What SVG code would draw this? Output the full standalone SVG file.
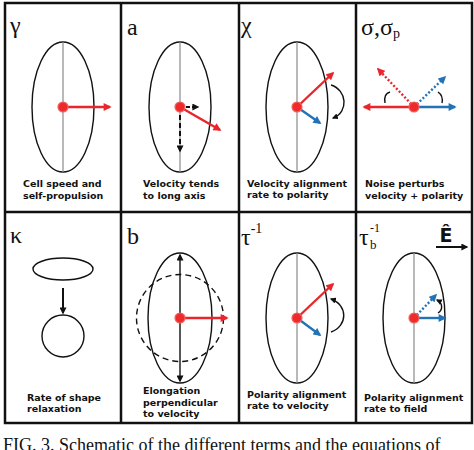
<svg xmlns="http://www.w3.org/2000/svg" width="474" height="450" viewBox="0 0 474 450">
<style>
.cap{font-family:"DejaVu Sans",Verdana,sans-serif;font-weight:bold;font-size:9.5px;fill:#111}
.sym{font-family:"Liberation Serif","Times New Roman",serif;font-size:24px;fill:#111}
.sm{font-size:14px}
.cell{fill:none;stroke:#111;stroke-width:1.4}
.axis{stroke:#8a8a8a;stroke-width:1.2}
.red{stroke:#e8262b;stroke-width:2.4;fill:none}
.blue{stroke:#2272b5;stroke-width:2.4;fill:none}
.blk{stroke:#111;stroke-width:2;fill:none}
.thin{stroke:#111;stroke-width:1.4;fill:none}
.dot{fill:#ee2a2a;stroke:#f06060;stroke-width:1.2}
.grid{stroke:#111;stroke-width:2.5;fill:none}
</style>
<defs>
<marker id="ar" viewBox="0 0 10 10" refX="8" refY="5" markerWidth="9" markerHeight="8" markerUnits="userSpaceOnUse" orient="auto"><path d="M0,0 L10,5 L0,10 z" fill="#e8262b"/></marker>
<marker id="ab" viewBox="0 0 10 10" refX="8" refY="5" markerWidth="9" markerHeight="8" markerUnits="userSpaceOnUse" orient="auto"><path d="M0,0 L10,5 L0,10 z" fill="#2272b5"/></marker>
<marker id="ak" viewBox="0 0 10 10" refX="8" refY="5" markerWidth="8" markerHeight="7" markerUnits="userSpaceOnUse" orient="auto"><path d="M0,0 L10,5 L0,10 z" fill="#111"/></marker>
<marker id="aks" viewBox="0 0 10 10" refX="8" refY="5" markerWidth="6" markerHeight="6" markerUnits="userSpaceOnUse" orient="auto"><path d="M0,0 L10,5 L0,10 z" fill="#111"/></marker>
</defs>
<rect x="0" y="0" width="474" height="450" fill="#fff"/>
<g id="grid">
<rect class="grid" x="5" y="3" width="467" height="420"/>
<line class="grid" x1="121" y1="3" x2="121" y2="423"/>
<line class="grid" x1="239" y1="3" x2="239" y2="423"/>
<line class="grid" x1="356" y1="3" x2="356" y2="423"/>
<line class="grid" x1="5" y1="212" x2="472" y2="212"/>
</g>
<g id="panel-gamma">
<text class="sym" x="10" y="33">γ</text>
<ellipse class="cell" cx="63" cy="107" rx="31" ry="65"/>
<line class="axis" x1="63" y1="42" x2="63" y2="172"/>
<line class="red" x1="63" y1="107" x2="110" y2="107" marker-end="url(#ar)"/>
<circle class="dot" cx="63" cy="107" r="5"/>
<text class="cap" x="23" y="187">Cell speed and</text>
<text class="cap" x="23" y="199">self-propulsion</text>
</g>
<g id="panel-a">
<text class="sym" x="127" y="35">a</text>
<ellipse class="cell" cx="180" cy="107" rx="31" ry="65"/>
<line class="axis" x1="180" y1="42" x2="180" y2="172"/>
<line class="blk" x1="180" y1="107" x2="198" y2="107" stroke-dasharray="4,2" marker-end="url(#ak)"/>
<line class="blk" x1="180" y1="107" x2="180" y2="151" stroke-dasharray="5,3" marker-end="url(#ak)"/>
<line class="red" x1="180" y1="107" x2="220" y2="130" marker-end="url(#ar)"/>
<circle class="dot" cx="180" cy="107" r="5"/>
<text class="cap" x="143" y="187">Velocity tends</text>
<text class="cap" x="143" y="199">to long axis</text>
</g>
<g id="panel-chi">
<text class="sym" x="241" y="33">χ</text>
<ellipse class="cell" cx="297" cy="107" rx="31" ry="65"/>
<line class="axis" x1="297" y1="42" x2="297" y2="172"/>
<line class="red" x1="297" y1="107" x2="333" y2="73" marker-end="url(#ar)"/>
<line class="blue" x1="297" y1="107" x2="320" y2="123" marker-end="url(#ab)"/>
<path class="thin" d="M331,85 C347,90 349,112 333,118" marker-end="url(#aks)"/>
<circle class="dot" cx="297" cy="107" r="5"/>
<text class="cap" x="247" y="187">Velocity alignment</text>
<text class="cap" x="247" y="198">rate to polarity</text>
</g>
<g id="panel-sigma">
<text class="sym" x="361" y="35">σ,σ<tspan class="sm" dy="3">p</tspan></text>
<line class="red" x1="414" y1="107" x2="364" y2="107" marker-end="url(#ar)"/>
<line class="blue" x1="414" y1="107" x2="455" y2="107" marker-end="url(#ab)"/>
<line class="red" x1="414" y1="107" x2="378" y2="69" stroke-dasharray="2,2" marker-end="url(#ar)"/>
<line class="blue" x1="414" y1="107" x2="445" y2="77" stroke-dasharray="2,2" marker-end="url(#ab)"/>
<path class="thin" d="M385,103 C384,97 386,93 390,92"/>
<path class="thin" d="M438,92 C441,94 443,98 442,103"/>
<circle class="dot" cx="414" cy="107" r="5"/>
<text class="cap" x="365" y="187">Noise perturbs</text>
<text class="cap" x="365" y="199">velocity + polarity</text>
</g>
<g id="panel-kappa">
<text class="sym" x="10" y="243">κ</text>
<ellipse class="cell" cx="63" cy="269" rx="30" ry="11"/>
<line class="blk" x1="63" y1="288" x2="63" y2="313" marker-end="url(#ak)"/>
<circle class="cell" cx="63" cy="336" r="21"/>
<text class="cap" x="27" y="401">Rate of shape</text>
<text class="cap" x="27" y="412">relaxation</text>
</g>
<g id="panel-b">
<text class="sym" x="127" y="244">b</text>
<ellipse class="cell" cx="180" cy="318" rx="32" ry="65"/>
<circle class="cell" cx="180" cy="318" r="43.5" stroke-dasharray="6,4"/>
<line class="thin" x1="180" y1="318" x2="180" y2="255" marker-end="url(#ak)"/>
<line class="thin" x1="180" y1="318" x2="180" y2="381" marker-end="url(#ak)"/>
<line class="red" x1="180" y1="318" x2="227" y2="318" marker-end="url(#ar)"/>
<circle class="dot" cx="180" cy="318" r="5"/>
<text class="cap" x="143" y="394">Elongation</text>
<text class="cap" x="143" y="406">perpendicular</text>
<text class="cap" x="143" y="417">to velocity</text>
</g>
<g id="panel-tau">
<text class="sym" x="241" y="245">τ<tspan class="sm" dy="-12">-1</tspan></text>
<ellipse class="cell" cx="297" cy="318" rx="31" ry="65"/>
<line class="axis" x1="297" y1="253" x2="297" y2="383"/>
<line class="red" x1="297" y1="318" x2="333" y2="284" marker-end="url(#ar)"/>
<line class="blue" x1="297" y1="318" x2="320" y2="335" marker-end="url(#ab)"/>
<path class="thin" d="M331,332 C348,326 348,305 331,299" marker-end="url(#aks)"/>
<circle class="dot" cx="297" cy="318" r="5"/>
<text class="cap" x="247" y="398">Polarity alignment</text>
<text class="cap" x="247" y="409">rate to velocity</text>
</g>
<g id="panel-taub">
<text class="sym" x="359" y="245">τ</text>
<text class="sym" x="370" y="232" style="font-size:12px">-1</text>
<text class="sym" x="370" y="249" style="font-size:13px">b</text>
<text x="446" y="242" text-anchor="middle" style="font-family:'DejaVu Sans',sans-serif;font-weight:bold;font-size:19px;fill:#111">Ê</text>
<line class="blk" x1="436" y1="247" x2="467" y2="247" marker-end="url(#ak)"/>
<ellipse class="cell" cx="414" cy="318" rx="31" ry="65"/>
<line class="axis" x1="414" y1="253" x2="414" y2="383"/>
<line class="blue" x1="414" y1="318" x2="445" y2="318" marker-end="url(#ab)"/>
<line class="blue" x1="414" y1="318" x2="436" y2="295" stroke-dasharray="2,2" marker-end="url(#ab)"/>
<path class="thin" d="M438,313 C443,310 443,303 437,300" marker-end="url(#aks)"/>
<circle class="dot" cx="414" cy="318" r="5"/>
<text class="cap" x="364" y="401">Polarity alignment</text>
<text class="cap" x="364" y="412">rate to field</text>
</g>
<text x="3" y="451" style="font-family:'Liberation Serif',serif;font-size:18px;fill:#111">FIG. 3. Schematic of the different terms and the equations of</text>
</svg>
